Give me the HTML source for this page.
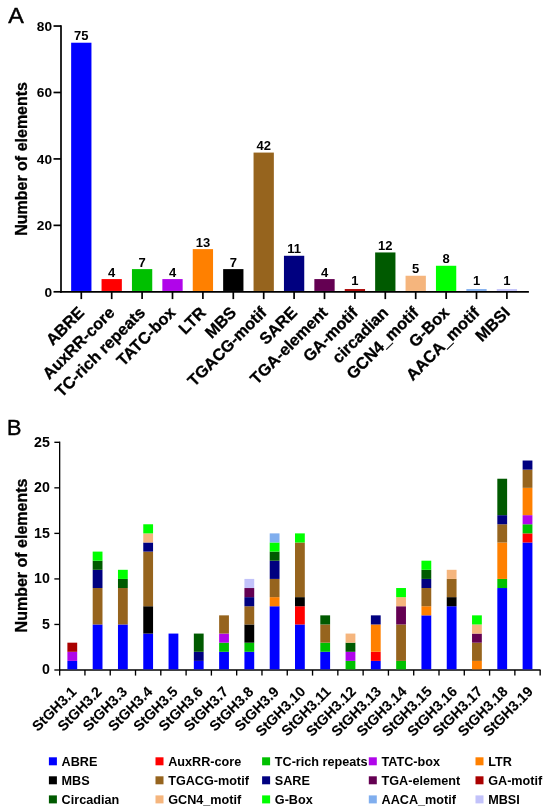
<!DOCTYPE html>
<html lang="en"><head><meta charset="utf-8"><title>Figure</title>
<style>html,body{margin:0;padding:0;background:#fff}body{width:550px;height:811px;overflow:hidden}</style></head>
<body>
<svg width="550" height="811" viewBox="0 0 550 811" style="display:block">
<rect width="550" height="811" fill="#fff"/>
<g font-family='"Liberation Sans", Arial, Helvetica, sans-serif' fill="#000">
<text transform="translate(8.2 22.6) scale(1.08 1)" font-size="21.6" stroke="#000" stroke-width="0.45">A</text>
<text x="6.9" y="435.1" font-size="21.6" stroke="#000" stroke-width="0.45">B</text>
<g stroke="#000" stroke-width="1.7" fill="none">
<path d="M61.0 25.19000000000002 V292.65000000000003"/>
<path d="M60.15 291.8 H528.9"/>
<path d="M53.5 291.8 H61.0"/>
<path d="M53.5 225.36 H61.0"/>
<path d="M53.5 158.92000000000002 H61.0"/>
<path d="M53.5 92.48000000000002 H61.0"/>
<path d="M53.5 26.04000000000002 H61.0"/>
<path d="M81.30 291.8 V299.1"/>
<path d="M111.70 291.8 V299.1"/>
<path d="M142.10 291.8 V299.1"/>
<path d="M172.50 291.8 V299.1"/>
<path d="M202.90 291.8 V299.1"/>
<path d="M233.30 291.8 V299.1"/>
<path d="M263.70 291.8 V299.1"/>
<path d="M294.10 291.8 V299.1"/>
<path d="M324.50 291.8 V299.1"/>
<path d="M354.90 291.8 V299.1"/>
<path d="M385.30 291.8 V299.1"/>
<path d="M415.70 291.8 V299.1"/>
<path d="M446.10 291.8 V299.1"/>
<path d="M476.50 291.8 V299.1"/>
<path d="M506.90 291.8 V299.1"/>
</g>
<rect x="71.15" y="42.72" width="20.3" height="248.23" fill="#0000ff"/>
<rect x="101.55" y="279.08" width="20.3" height="11.87" fill="#ff0000"/>
<rect x="131.95" y="269.10" width="20.3" height="21.85" fill="#00c000"/>
<rect x="162.35" y="279.08" width="20.3" height="11.87" fill="#b005ea"/>
<rect x="192.75" y="249.12" width="20.3" height="41.83" fill="#ff8000"/>
<rect x="223.15" y="269.10" width="20.3" height="21.85" fill="#000000"/>
<rect x="253.55" y="152.58" width="20.3" height="138.37" fill="#96641e"/>
<rect x="283.95" y="255.78" width="20.3" height="35.17" fill="#000080"/>
<rect x="314.35" y="279.08" width="20.3" height="11.87" fill="#640052"/>
<rect x="344.75" y="289.07" width="20.3" height="1.88" fill="#aa0000"/>
<rect x="375.15" y="252.45" width="20.3" height="38.50" fill="#005a00"/>
<rect x="405.55" y="275.75" width="20.3" height="15.19" fill="#f5b57d"/>
<rect x="435.95" y="265.77" width="20.3" height="25.18" fill="#00ff00"/>
<rect x="466.35" y="289.07" width="20.3" height="1.88" fill="#80aeee"/>
<rect x="496.75" y="289.07" width="20.3" height="1.88" fill="#c2c2fa"/>
<g font-weight="bold" font-size="13" text-anchor="middle">
<text x="81.30" y="40.22">75</text>
<text x="111.70" y="276.58">4</text>
<text x="142.10" y="266.60">7</text>
<text x="172.50" y="276.58">4</text>
<text x="202.90" y="246.62">13</text>
<text x="233.30" y="266.60">7</text>
<text x="263.70" y="150.08">42</text>
<text x="294.10" y="253.28">11</text>
<text x="324.50" y="276.58">4</text>
<text x="354.90" y="285.47">1</text>
<text x="385.30" y="249.95">12</text>
<text x="415.70" y="273.25">5</text>
<text x="446.10" y="263.27">8</text>
<text x="476.50" y="285.47">1</text>
<text x="506.90" y="285.47">1</text>
</g>
<g font-weight="bold" font-size="13.7" text-anchor="end">
<text x="52.0" y="296.60">0</text>
<text x="52.0" y="230.16">20</text>
<text x="52.0" y="163.72">40</text>
<text x="52.0" y="97.28">60</text>
<text x="52.0" y="30.84">80</text>
</g>
<g font-weight="bold" font-size="16.3" text-anchor="end" stroke="#000" stroke-width="0.3">
<text transform="translate(85.30 313.60) rotate(-45)">ABRE</text>
<text transform="translate(115.70 313.60) rotate(-45)">AuxRR-core</text>
<text transform="translate(146.10 313.60) rotate(-45)">TC-rich repeats</text>
<text transform="translate(176.50 313.60) rotate(-45)">TATC-box</text>
<text transform="translate(206.90 313.60) rotate(-45)">LTR</text>
<text transform="translate(237.30 313.60) rotate(-45)">MBS</text>
<text transform="translate(267.70 313.60) rotate(-45)">TGACG-motif</text>
<text transform="translate(298.10 313.60) rotate(-45)">SARE</text>
<text transform="translate(328.50 313.60) rotate(-45)">TGA-element</text>
<text transform="translate(358.90 313.60) rotate(-45)">GA-motif</text>
<text transform="translate(389.30 313.60) rotate(-45)">circadian</text>
<text transform="translate(419.70 313.60) rotate(-45)">GCN4_motif</text>
<text transform="translate(450.10 313.60) rotate(-45)">G-Box</text>
<text transform="translate(480.50 313.60) rotate(-45)">AACA_motif</text>
<text transform="translate(510.90 313.60) rotate(-45)">MBSI</text>
</g>
<text transform="translate(26.9 158.9) rotate(-90)" stroke="#000" stroke-width="0.3" font-weight="bold" font-size="16.0" text-anchor="middle">Number of elements</text>
<g stroke="#000" stroke-width="1.35" fill="none">
<path d="M59.65 441.62499999999994 V670.675"/>
<path d="M58.975 670.0 H540.6"/>
<path d="M54.35 670.00 H59.65"/>
<path d="M54.35 624.46 H59.65"/>
<path d="M54.35 578.92 H59.65"/>
<path d="M54.35 533.38 H59.65"/>
<path d="M54.35 487.84 H59.65"/>
<path d="M54.35 442.30 H59.65"/>
<path d="M59.65 670.0 V675.6"/>
<path d="M84.94 670.0 V675.6"/>
<path d="M110.23 670.0 V675.6"/>
<path d="M135.52 670.0 V675.6"/>
<path d="M160.81 670.0 V675.6"/>
<path d="M186.10 670.0 V675.6"/>
<path d="M211.39 670.0 V675.6"/>
<path d="M236.68 670.0 V675.6"/>
<path d="M261.97 670.0 V675.6"/>
<path d="M287.26 670.0 V675.6"/>
<path d="M312.55 670.0 V675.6"/>
<path d="M337.84 670.0 V675.6"/>
<path d="M363.13 670.0 V675.6"/>
<path d="M388.42 670.0 V675.6"/>
<path d="M413.71 670.0 V675.6"/>
<path d="M439.00 670.0 V675.6"/>
<path d="M464.29 670.0 V675.6"/>
<path d="M489.58 670.0 V675.6"/>
<path d="M514.87 670.0 V675.6"/>
<path d="M540.16 670.0 V675.6"/>
</g>
<rect x="67.39" y="660.89" width="9.8" height="8.43" fill="#0000ff"/>
<rect x="67.39" y="651.78" width="9.8" height="9.11" fill="#b005ea"/>
<rect x="67.39" y="642.68" width="9.8" height="9.11" fill="#aa0000"/>
<rect x="92.69" y="624.46" width="9.8" height="44.87" fill="#0000ff"/>
<rect x="92.69" y="588.03" width="9.8" height="36.43" fill="#96641e"/>
<rect x="92.69" y="569.81" width="9.8" height="18.22" fill="#000080"/>
<rect x="92.69" y="560.70" width="9.8" height="9.11" fill="#005a00"/>
<rect x="92.69" y="551.60" width="9.8" height="9.11" fill="#00ff00"/>
<rect x="117.97" y="624.46" width="9.8" height="44.87" fill="#0000ff"/>
<rect x="117.97" y="588.03" width="9.8" height="36.43" fill="#96641e"/>
<rect x="117.97" y="578.92" width="9.8" height="9.11" fill="#005a00"/>
<rect x="117.97" y="569.81" width="9.8" height="9.11" fill="#00ff00"/>
<rect x="143.26" y="633.57" width="9.8" height="35.76" fill="#0000ff"/>
<rect x="143.26" y="606.24" width="9.8" height="27.32" fill="#000000"/>
<rect x="143.26" y="551.60" width="9.8" height="54.65" fill="#96641e"/>
<rect x="143.26" y="542.49" width="9.8" height="9.11" fill="#000080"/>
<rect x="143.26" y="533.38" width="9.8" height="9.11" fill="#f5b57d"/>
<rect x="143.26" y="524.27" width="9.8" height="9.11" fill="#00ff00"/>
<rect x="168.55" y="633.57" width="9.8" height="35.76" fill="#0000ff"/>
<rect x="193.84" y="660.89" width="9.8" height="8.43" fill="#0000ff"/>
<rect x="193.84" y="651.78" width="9.8" height="9.11" fill="#000080"/>
<rect x="193.84" y="633.57" width="9.8" height="18.22" fill="#005a00"/>
<rect x="219.13" y="651.78" width="9.8" height="17.54" fill="#0000ff"/>
<rect x="219.13" y="642.68" width="9.8" height="9.11" fill="#00c000"/>
<rect x="219.13" y="633.57" width="9.8" height="9.11" fill="#b005ea"/>
<rect x="219.13" y="615.35" width="9.8" height="18.22" fill="#96641e"/>
<rect x="244.42" y="651.78" width="9.8" height="17.54" fill="#0000ff"/>
<rect x="244.42" y="642.68" width="9.8" height="9.11" fill="#00c000"/>
<rect x="244.42" y="624.46" width="9.8" height="18.22" fill="#000000"/>
<rect x="244.42" y="606.24" width="9.8" height="18.22" fill="#96641e"/>
<rect x="244.42" y="597.14" width="9.8" height="9.11" fill="#000080"/>
<rect x="244.42" y="588.03" width="9.8" height="9.11" fill="#640052"/>
<rect x="244.42" y="578.92" width="9.8" height="9.11" fill="#c2c2fa"/>
<rect x="269.72" y="606.24" width="9.8" height="63.08" fill="#0000ff"/>
<rect x="269.72" y="597.14" width="9.8" height="9.11" fill="#ff8000"/>
<rect x="269.72" y="578.92" width="9.8" height="18.22" fill="#96641e"/>
<rect x="269.72" y="560.70" width="9.8" height="18.22" fill="#000080"/>
<rect x="269.72" y="551.60" width="9.8" height="9.11" fill="#005a00"/>
<rect x="269.72" y="542.49" width="9.8" height="9.11" fill="#00ff00"/>
<rect x="269.72" y="533.38" width="9.8" height="9.11" fill="#80aeee"/>
<rect x="295.00" y="624.46" width="9.8" height="44.87" fill="#0000ff"/>
<rect x="295.00" y="606.24" width="9.8" height="18.22" fill="#ff0000"/>
<rect x="295.00" y="597.14" width="9.8" height="9.11" fill="#000000"/>
<rect x="295.00" y="542.49" width="9.8" height="54.65" fill="#96641e"/>
<rect x="295.00" y="533.38" width="9.8" height="9.11" fill="#00ff00"/>
<rect x="320.30" y="651.78" width="9.8" height="17.54" fill="#0000ff"/>
<rect x="320.30" y="642.68" width="9.8" height="9.11" fill="#00c000"/>
<rect x="320.30" y="624.46" width="9.8" height="18.22" fill="#96641e"/>
<rect x="320.30" y="615.35" width="9.8" height="9.11" fill="#005a00"/>
<rect x="345.58" y="660.89" width="9.8" height="8.43" fill="#00c000"/>
<rect x="345.58" y="651.78" width="9.8" height="9.11" fill="#b005ea"/>
<rect x="345.58" y="642.68" width="9.8" height="9.11" fill="#005a00"/>
<rect x="345.58" y="633.57" width="9.8" height="9.11" fill="#f5b57d"/>
<rect x="370.88" y="660.89" width="9.8" height="8.43" fill="#0000ff"/>
<rect x="370.88" y="651.78" width="9.8" height="9.11" fill="#ff0000"/>
<rect x="370.88" y="624.46" width="9.8" height="27.32" fill="#ff8000"/>
<rect x="370.88" y="615.35" width="9.8" height="9.11" fill="#000080"/>
<rect x="396.16" y="660.89" width="9.8" height="8.43" fill="#00c000"/>
<rect x="396.16" y="624.46" width="9.8" height="36.43" fill="#96641e"/>
<rect x="396.16" y="606.24" width="9.8" height="18.22" fill="#640052"/>
<rect x="396.16" y="597.14" width="9.8" height="9.11" fill="#f5b57d"/>
<rect x="396.16" y="588.03" width="9.8" height="9.11" fill="#00ff00"/>
<rect x="421.45" y="615.35" width="9.8" height="53.97" fill="#0000ff"/>
<rect x="421.45" y="606.24" width="9.8" height="9.11" fill="#ff8000"/>
<rect x="421.45" y="588.03" width="9.8" height="18.22" fill="#96641e"/>
<rect x="421.45" y="578.92" width="9.8" height="9.11" fill="#000080"/>
<rect x="421.45" y="569.81" width="9.8" height="9.11" fill="#005a00"/>
<rect x="421.45" y="560.70" width="9.8" height="9.11" fill="#00ff00"/>
<rect x="446.75" y="606.24" width="9.8" height="63.08" fill="#0000ff"/>
<rect x="446.75" y="597.14" width="9.8" height="9.11" fill="#000000"/>
<rect x="446.75" y="578.92" width="9.8" height="18.22" fill="#96641e"/>
<rect x="446.75" y="569.81" width="9.8" height="9.11" fill="#f5b57d"/>
<rect x="472.03" y="660.89" width="9.8" height="8.43" fill="#ff8000"/>
<rect x="472.03" y="642.68" width="9.8" height="18.22" fill="#96641e"/>
<rect x="472.03" y="633.57" width="9.8" height="9.11" fill="#640052"/>
<rect x="472.03" y="624.46" width="9.8" height="9.11" fill="#f5b57d"/>
<rect x="472.03" y="615.35" width="9.8" height="9.11" fill="#00ff00"/>
<rect x="497.32" y="588.03" width="9.8" height="81.30" fill="#0000ff"/>
<rect x="497.32" y="578.92" width="9.8" height="9.11" fill="#00c000"/>
<rect x="497.32" y="542.49" width="9.8" height="36.43" fill="#ff8000"/>
<rect x="497.32" y="524.27" width="9.8" height="18.22" fill="#96641e"/>
<rect x="497.32" y="515.16" width="9.8" height="9.11" fill="#000080"/>
<rect x="497.32" y="478.73" width="9.8" height="36.43" fill="#005a00"/>
<rect x="522.62" y="542.49" width="9.8" height="126.84" fill="#0000ff"/>
<rect x="522.62" y="533.38" width="9.8" height="9.11" fill="#ff0000"/>
<rect x="522.62" y="524.27" width="9.8" height="9.11" fill="#00c000"/>
<rect x="522.62" y="515.16" width="9.8" height="9.11" fill="#b005ea"/>
<rect x="522.62" y="487.84" width="9.8" height="27.32" fill="#ff8000"/>
<rect x="522.62" y="469.62" width="9.8" height="18.22" fill="#96641e"/>
<rect x="522.62" y="460.52" width="9.8" height="9.11" fill="#000080"/>
<g font-weight="bold" font-size="14.2" text-anchor="end">
<text x="49.8" y="674.20">0</text>
<text x="49.8" y="628.66">5</text>
<text x="49.8" y="583.12">10</text>
<text x="49.8" y="537.58">15</text>
<text x="49.8" y="492.04">20</text>
<text x="49.8" y="446.50">25</text>
</g>
<g font-weight="bold" font-size="14.3" text-anchor="end" stroke="#000" stroke-width="0.1">
<text transform="translate(77.45 692.60) rotate(-45)">StGH3.1</text>
<text transform="translate(102.74 692.60) rotate(-45)">StGH3.2</text>
<text transform="translate(128.03 692.60) rotate(-45)">StGH3.3</text>
<text transform="translate(153.31 692.60) rotate(-45)">StGH3.4</text>
<text transform="translate(178.60 692.60) rotate(-45)">StGH3.5</text>
<text transform="translate(203.90 692.60) rotate(-45)">StGH3.6</text>
<text transform="translate(229.19 692.60) rotate(-45)">StGH3.7</text>
<text transform="translate(254.47 692.60) rotate(-45)">StGH3.8</text>
<text transform="translate(279.76 692.60) rotate(-45)">StGH3.9</text>
<text transform="translate(306.35 692.40) rotate(-45)">StGH3.10</text>
<text transform="translate(331.64 692.40) rotate(-45)">StGH3.11</text>
<text transform="translate(356.93 692.40) rotate(-45)">StGH3.12</text>
<text transform="translate(382.22 692.40) rotate(-45)">StGH3.13</text>
<text transform="translate(407.51 692.40) rotate(-45)">StGH3.14</text>
<text transform="translate(432.80 692.40) rotate(-45)">StGH3.15</text>
<text transform="translate(458.09 692.40) rotate(-45)">StGH3.16</text>
<text transform="translate(483.38 692.40) rotate(-45)">StGH3.17</text>
<text transform="translate(508.67 692.40) rotate(-45)">StGH3.18</text>
<text transform="translate(533.97 692.40) rotate(-45)">StGH3.19</text>
</g>
<text transform="translate(26.6 555.5) rotate(-90)" stroke="#000" stroke-width="0.3" font-weight="bold" font-size="16.0" text-anchor="middle">Number of elements</text>
<g font-weight="bold" font-size="12.65">
<rect x="48.9" y="757.30" width="8" height="8" fill="#0000ff"/>
<text x="61.599999999999994" y="765.6999999999999">ABRE</text>
<rect x="155.5" y="757.30" width="8" height="8" fill="#ff0000"/>
<text x="168.2" y="765.6999999999999">AuxRR-core</text>
<rect x="262.1" y="757.30" width="8" height="8" fill="#00c000"/>
<text x="274.8" y="765.6999999999999">TC-rich repeats</text>
<rect x="368.8" y="757.30" width="8" height="8" fill="#b005ea"/>
<text x="381.5" y="765.6999999999999">TATC-box</text>
<rect x="475.5" y="757.30" width="8" height="8" fill="#ff8000"/>
<text x="488.2" y="765.6999999999999">LTR</text>
<rect x="48.9" y="776.30" width="8" height="8" fill="#000000"/>
<text x="61.599999999999994" y="784.6999999999999">MBS</text>
<rect x="155.5" y="776.30" width="8" height="8" fill="#96641e"/>
<text x="168.2" y="784.6999999999999">TGACG-motif</text>
<rect x="262.1" y="776.30" width="8" height="8" fill="#000080"/>
<text x="274.8" y="784.6999999999999">SARE</text>
<rect x="368.8" y="776.30" width="8" height="8" fill="#640052"/>
<text x="381.5" y="784.6999999999999">TGA-element</text>
<rect x="475.5" y="776.30" width="8" height="8" fill="#aa0000"/>
<text x="488.2" y="784.6999999999999">GA-motif</text>
<rect x="48.9" y="795.40" width="8" height="8" fill="#005a00"/>
<text x="61.599999999999994" y="803.8">Circadian</text>
<rect x="155.5" y="795.40" width="8" height="8" fill="#f5b57d"/>
<text x="168.2" y="803.8">GCN4_motif</text>
<rect x="262.1" y="795.40" width="8" height="8" fill="#00ff00"/>
<text x="274.8" y="803.8">G-Box</text>
<rect x="368.8" y="795.40" width="8" height="8" fill="#80aeee"/>
<text x="381.5" y="803.8">AACA_motif</text>
<rect x="475.5" y="795.40" width="8" height="8" fill="#c2c2fa"/>
<text x="488.2" y="803.8">MBSI</text>
</g>
</g></svg>
</body></html>
